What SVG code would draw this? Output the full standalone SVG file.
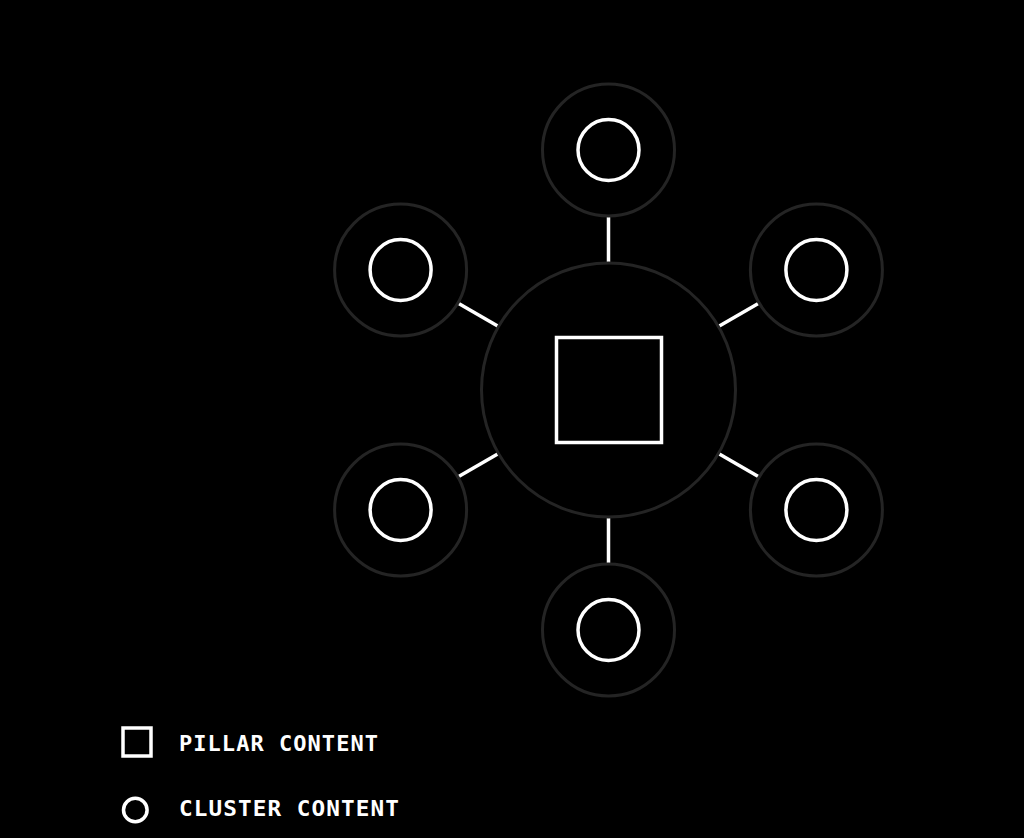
<svg xmlns="http://www.w3.org/2000/svg" width="1024" height="838" viewBox="0 0 1024 838">
<style>
.ring{fill:none;stroke:#242424;stroke-width:3}
.inner{fill:none;stroke:#ffffff;stroke-width:3.5}
.conn{stroke:#ffffff;stroke-width:3.5;fill:none}
.lbl{font-family:"DejaVu Sans Mono","Liberation Mono",monospace;font-weight:bold;font-size:21px;fill:#ffffff;letter-spacing:1px}
</style>
<rect x="0" y="0" width="1024" height="838" fill="#000000"/>
<g id="connectors">
<line class="conn" x1="608.5" y1="262.5" x2="608.5" y2="217"/>
<line class="conn" x1="608.5" y1="517.5" x2="608.5" y2="563"/>
<line class="conn" x1="718.9" y1="326.25" x2="758.3" y2="303.5"/>
<line class="conn" x1="718.9" y1="453.75" x2="758.3" y2="476.5"/>
<line class="conn" x1="498.1" y1="326.25" x2="458.7" y2="303.5"/>
<line class="conn" x1="498.1" y1="453.75" x2="458.7" y2="476.5"/>
</g>
<g id="pillar">
<circle class="ring" cx="608.5" cy="390" r="127"/>
<rect class="inner" x="556.5" y="337.5" width="105" height="105"/>
</g>
<g id="cluster-top">
<circle class="ring" cx="608.5" cy="150" r="66"/>
<circle class="inner" cx="608.5" cy="150" r="30.5"/>
</g>
<g id="cluster-right-top">
<circle class="ring" cx="816.4" cy="270" r="66"/>
<circle class="inner" cx="816.4" cy="270" r="30.5"/>
</g>
<g id="cluster-right-bottom">
<circle class="ring" cx="816.4" cy="510" r="66"/>
<circle class="inner" cx="816.4" cy="510" r="30.5"/>
</g>
<g id="cluster-bottom">
<circle class="ring" cx="608.5" cy="630" r="66"/>
<circle class="inner" cx="608.5" cy="630" r="30.5"/>
</g>
<g id="cluster-left-bottom">
<circle class="ring" cx="400.6" cy="510" r="66"/>
<circle class="inner" cx="400.6" cy="510" r="30.5"/>
</g>
<g id="cluster-left-top">
<circle class="ring" cx="400.6" cy="270" r="66"/>
<circle class="inner" cx="400.6" cy="270" r="30.5"/>
</g>
<g id="legend">
<rect class="inner" x="123" y="728" width="28" height="28"/>
<text class="lbl" x="179" y="751" textLength="200" lengthAdjust="spacingAndGlyphs">PILLAR CONTENT</text>
<circle class="inner" cx="135.3" cy="810" r="11.8"/>
<text class="lbl" x="179" y="816" textLength="221" lengthAdjust="spacingAndGlyphs">CLUSTER CONTENT</text>
</g>
</svg>
